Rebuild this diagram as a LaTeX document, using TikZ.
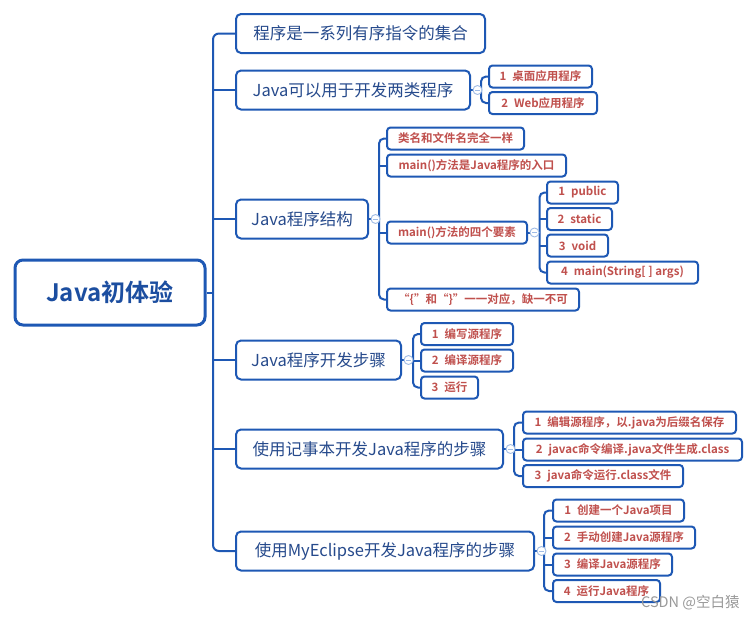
\documentclass[tikz,border=0pt]{standalone}
\usepackage{fontspec}
\setmainfont{Noto Sans CJK SC}[BoldFont={Noto Sans CJK SC Bold}]
\definecolor{bl}{RGB}{30,88,180}
\definecolor{tone}{RGB}{38,74,140}
\definecolor{troot}{RGB}{28,78,160}
\definecolor{tred}{RGB}{192,80,77}
\definecolor{kc}{RGB}{160,188,230}
\newcommand\nb[1]{#1\hspace{6pt}}
\tikzset{
  conn/.style={draw=bl, line width=2pt},
  rootbox/.style={draw=bl, line width=3pt, rounded corners=8pt, fill=white, text=troot,
    font=\bfseries\fontsize{24}{26}\selectfont, minimum width=190pt, minimum height=65pt, inner sep=0pt},
  onebox/.style={draw=bl, line width=2pt, rounded corners=5pt, fill=white, text=tone,
    font=\fontsize{16.5}{18}\selectfont, minimum height=39pt, inner sep=0pt, anchor=west},
  twobox/.style={draw=bl, line width=2pt, rounded corners=3.5pt, fill=white, text=tred,
    font=\bfseries\fontsize{11.5}{13}\selectfont, minimum height=22pt, inner sep=0pt, anchor=west},
  fold/.style={circle, draw=kc, line width=0.9pt, fill=white, minimum size=9pt, inner sep=0pt,
    path picture={\draw[kc, line width=0.9pt] ([xshift=-2.2pt]path picture bounding box.center) -- ([xshift=2.2pt]path picture bounding box.center);}},
}
\begin{document}
\begin{tikzpicture}[x=1pt,y=-1pt]
\useasboundingbox[fill=white] (0,0) rectangle (756,619);
% root
\node[rootbox] (root) at (110,292.5) {Java初体验};
% level 1
\node[onebox, minimum width=249pt] (a1) at (235,33.5) {程序是一系列有序指令的集合};
\node[onebox, minimum width=234pt] (a2) at (235,90) {Java可以用于开发两类程序};
\node[onebox, minimum width=132pt] (a3) at (235,219) {Java程序结构};
\node[onebox, minimum width=165pt] (a4) at (235,360) {Java程序开发步骤};
\node[onebox, minimum width=267pt] (a5) at (235,449) {使用记事本开发Java程序的步骤};
\node[onebox, minimum width=298pt] (a6) at (235,551) {使用MyEclipse开发Java程序的步骤};
% level 2: a2
\node[twobox, minimum width=103pt] (b1) at (488,76.5) {\nb{1}桌面应用程序};
\node[twobox, minimum width=108pt] (b2) at (488,103) {\nb{2}Web应用程序};
% a3
\node[twobox, minimum width=137pt] (c1) at (386,138.5) {类名和文件名完全一样};
\node[twobox, minimum width=179pt] (c2) at (386,165.5) {main()方法是Java程序的入口};
\node[twobox, minimum width=140pt] (c3) at (386,232.5) {main()方法的四个要素};
\node[twobox, minimum width=192pt] (c4) at (386,299.5) {“\{”和“\}”一一对应，缺一不可};
% c3
\node[twobox, minimum width=71pt] (d1) at (546,192.5) {\nb{1}public};
\node[twobox, minimum width=65pt] (d2) at (546,219) {\nb{2}static};
\node[twobox, minimum width=61pt] (d3) at (546,245.5) {\nb{3}void};
\node[twobox, minimum width=151pt] (d4) at (546,272.5) {\nb{4}main(String[ ] args)};
% a4
\node[twobox, minimum width=92pt] (e1) at (420,334) {\nb{1}编写源程序};
\node[twobox, minimum width=92pt] (e2) at (420,360.5) {\nb{2}编译源程序};
\node[twobox, minimum width=57pt] (e3) at (420,387.5) {\nb{3}运行};
% a5
\node[twobox, minimum width=213pt] (f1) at (522,422.5) {\nb{1}编辑源程序，以.java为后缀名保存};
\node[twobox, minimum width=219pt] (f2) at (522,449.5) {\nb{2}javac命令编译.java文件生成.class};
\node[twobox, minimum width=160pt] (f3) at (522,476) {\nb{3}java命令运行.class文件};
% a6
\node[twobox, minimum width=131pt] (g1) at (552,510.5) {\nb{1}创建一个Java项目};
\node[twobox, minimum width=142pt] (g2) at (552,537.5) {\nb{2}手动创建Java源程序};
\node[twobox, minimum width=119pt] (g3) at (552,564.5) {\nb{3}编译Java源程序};
\node[twobox, minimum width=107pt] (g4) at (552,591) {\nb{4}运行Java程序};
% trunk
\coordinate (tx) at (213,0);
\draw[conn] (root.east) -- (root.east -| tx);
\draw[conn, rounded corners=6pt] (a1.west) -- (a1.west -| tx) |- (a6.west);
\foreach \n in {a2,a3,a4,a5} \draw[conn] (\n.west) -- (\n.west -| tx);
% group a2
\coordinate (x2) at (481,0);
\draw[conn] (a2.east) -- (a2.east -| x2);
\draw[conn, rounded corners=5pt] (b1.west) -- (b1.west -| x2) |- (b2.west);
% group a3
\coordinate (x3) at (379,0);
\draw[conn] (a3.east) -- (a3.east -| x3);
\draw[conn, rounded corners=5pt] (c1.west) -- (c1.west -| x3) |- (c4.west);
\foreach \n in {c2,c3} \draw[conn] (\n.west) -- (\n.west -| x3);
% group c3
\coordinate (x4) at (539.5,0);
\draw[conn] (c3.east) -- (c3.east -| x4);
\draw[conn, rounded corners=5pt] (d1.west) -- (d1.west -| x4) |- (d4.west);
\foreach \n in {d2,d3} \draw[conn] (\n.west) -- (\n.west -| x4);
% group a4
\coordinate (x5) at (413,0);
\draw[conn] (a4.east) -- (a4.east -| x5);
\draw[conn, rounded corners=5pt] (e1.west) -- (e1.west -| x5) |- (e3.west);
\draw[conn] (e2.west) -- (e2.west -| x5);
% group a5
\coordinate (x6) at (514,0);
\draw[conn] (a5.east) -- (a5.east -| x6);
\draw[conn, rounded corners=5pt] (f1.west) -- (f1.west -| x6) |- (f3.west);
\draw[conn] (f2.west) -- (f2.west -| x6);
% group a6
\coordinate (x7) at (544,0);
\draw[conn] (a6.east) -- (a6.east -| x7);
\draw[conn, rounded corners=5pt] (g1.west) -- (g1.west -| x7) |- (g4.west);
\foreach \n in {g2,g3} \draw[conn] (\n.west) -- (\n.west -| x7);
% fold markers
\foreach \n in {a2,a3,c3,a4,a5,a6} \node[fold] (k\n) at ([xshift=6.5pt]\n.east) {};
% watermark
\node[anchor=west, text=black!40, font=\fontsize{14.5}{16}\selectfont, inner sep=0pt] (wm) at (641,603) {CSDN @空白猿};
\end{tikzpicture}
\end{document}
